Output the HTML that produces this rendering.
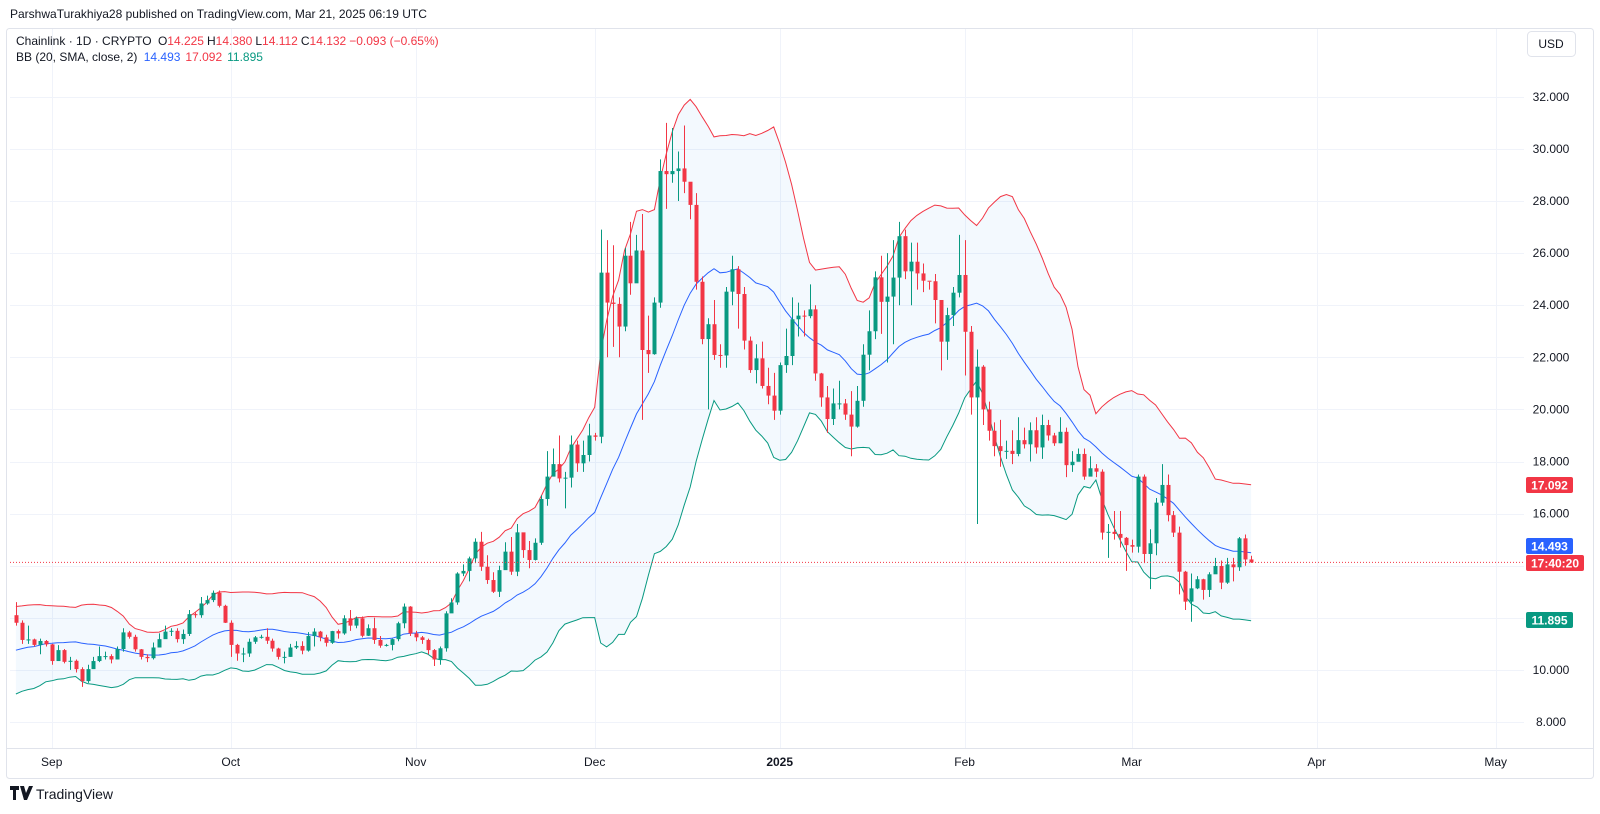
<!DOCTYPE html>
<html><head><meta charset="utf-8"><style>
html,body{margin:0;padding:0;background:#fff;}
svg{display:block;font-family:"Liberation Sans",sans-serif;}
</style></head><body>
<svg id="chart" width="1600" height="814" viewBox="0 0 1600 814">
  <text x="10" y="18" font-size="12" fill="#131722">ParshwaTurakhiya28 published on TradingView.com, Mar 21, 2025 06:19 UTC</text>
  <rect x="6.5" y="28.5" width="1587" height="750" rx="3" fill="none" stroke="#e0e3eb"/>
  <g id="grid"></g>
  <g id="bands"></g>
  <g id="candles"></g>
  <g id="axes"></g>
  <g font-size="12">
    <text x="16" y="45" fill="#131722">Chainlink · 1D · CRYPTO <tspan fill="#131722" dx="3">O</tspan><tspan fill="#F23645">14.225</tspan><tspan dx="3">H</tspan><tspan fill="#F23645">14.380</tspan><tspan dx="3">L</tspan><tspan fill="#F23645">14.112</tspan><tspan dx="3">C</tspan><tspan fill="#F23645">14.132</tspan><tspan fill="#F23645" dx="3">−0.093 (−0.65%)</tspan></text>
    <text x="16" y="61" fill="#131722">BB (20, SMA, close, 2) <tspan fill="#2962FF" dx="3">14.493</tspan><tspan fill="#F23645" dx="5">17.092</tspan><tspan fill="#089981" dx="5">11.895</tspan></text>
  </g>
  <g>
    <rect x="1527.5" y="31.5" width="48" height="25" rx="4" fill="#fff" stroke="#e0e3eb"/>
    <text x="1551" y="48" font-size="12" fill="#131722" text-anchor="middle">USD</text>
  </g>
  <g>
    <path d="M10 786h9v4h-3v10h-3v-10h-3z M20 786l4 0 2 7 3-7h4l-6 14h-3z" fill="#131722"/>
    <text x="36" y="799" font-size="14" fill="#131722">TradingView</text>
  </g>
</svg>
<script>
const warmupCloses=[9.9,10.2,10.4,10.0,9.8,10.1,10.3,10.2,10.0,9.9,10.5,10.7,10.6,11.2,11.1,11.6,12.0,12.3,12.5];
const firstOpen=12.1;
const closes=[11.81,11.15,11.17,10.96,11.11,10.98,10.34,10.76,10.31,10.35,10.03,9.57,10.03,10.34,10.53,10.53,10.40,10.80,11.44,11.27,
10.79,10.50,10.45,10.86,11.18,11.47,11.50,11.18,11.38,12.14,12.10,12.55,12.68,12.96,12.46,11.81,10.96,10.63,10.63,11.08,
11.25,11.27,11.12,10.82,10.50,10.50,10.86,10.92,10.74,11.30,11.47,11.25,11.04,11.49,11.40,11.98,11.70,11.98,11.31,11.60,
11.15,10.93,10.96,11.18,11.79,12.43,11.40,11.25,11.15,10.76,10.40,10.83,12.17,12.59,13.70,13.80,14.28,14.92,13.96,13.45,
13.00,13.83,14.54,13.77,15.28,14.60,14.22,14.88,16.56,17.42,17.90,17.35,17.38,18.65,17.93,18.25,19.00,18.95,25.25,24.10,
24.05,23.18,25.90,24.84,26.10,22.28,22.12,24.10,29.15,29.03,29.15,29.25,28.74,27.85,24.90,22.70,23.27,22.09,22.07,24.52,
25.38,24.43,22.64,21.51,21.96,20.90,20.53,19.95,21.70,22.05,23.46,23.60,23.58,23.84,21.38,20.46,19.63,20.23,20.23,19.80,
19.34,20.33,22.10,23.00,25.07,24.13,24.33,25.06,26.65,25.30,25.67,25.22,24.94,24.92,24.20,22.60,23.62,24.48,25.16,22.98,
20.46,21.64,20.00,19.18,18.59,18.40,18.41,18.29,18.82,18.66,19.20,18.54,19.40,19.00,18.70,19.14,17.86,17.99,18.29,17.42,
17.74,17.61,15.27,15.30,15.22,15.07,14.79,14.73,17.42,14.45,14.86,16.42,17.10,15.94,15.27,13.77,12.62,13.13,13.48,13.07,
13.67,13.99,13.35,14.05,13.94,15.05,14.24,14.13];
const highs=[12.6,11.9,11.7,11.2,11.2,11.15,11.0,10.95,10.8,10.5,10.4,10.1,10.2,10.5,10.9,10.7,10.6,10.9,11.6,11.5,
11.35,10.8,10.6,11.05,11.4,11.7,11.6,11.6,11.55,12.3,12.2,12.8,12.85,13.05,13.05,12.5,11.9,11.0,10.85,11.2,
11.3,11.35,11.6,11.2,10.85,10.7,11.0,11.1,11.1,11.45,11.6,11.5,11.35,11.5,11.55,12.1,12.3,12.05,12.05,11.75,
12.0,11.3,11.0,11.2,11.85,12.55,12.45,11.5,11.3,11.2,10.8,10.9,12.25,12.75,13.75,14.05,14.35,15.05,15.3,14.4,
13.75,14.0,14.9,15.1,15.6,15.2,14.95,15.05,16.7,18.4,18.5,19.0,17.6,19.0,18.8,18.8,19.45,19.1,26.9,26.5,
26.3,24.3,26.2,27.2,26.7,27.5,23.6,24.3,29.6,31.0,30.8,29.9,30.9,28.6,28.3,25.1,23.5,24.2,22.5,24.7,
25.9,25.5,24.7,22.8,22.5,22.6,21.6,21.4,21.8,23.1,24.3,24.1,23.8,24.8,24.0,21.4,20.9,20.8,21.1,20.4,
20.7,20.9,22.5,23.8,25.3,25.9,26.0,26.5,27.2,26.9,26.4,26.4,25.6,24.9,25.2,24.0,23.9,24.7,26.7,26.5,
23.2,22.3,21.7,20.3,19.5,19.6,18.8,19.2,19.7,19.3,19.5,19.7,19.8,19.6,19.1,19.7,19.3,18.4,18.5,18.5,
18.2,17.9,17.7,15.6,16.1,16.1,15.1,15.0,17.5,17.5,15.4,16.6,17.9,17.5,16.1,15.5,13.8,13.7,13.6,13.5,
13.75,14.3,14.2,14.3,14.3,15.1,15.2,14.38];
const lows=[11.7,11.0,11.0,10.9,10.6,10.9,10.2,10.4,10.25,10.0,9.9,9.35,9.5,10.2,10.3,10.4,10.25,10.4,10.7,11.2,
10.7,10.4,10.3,10.4,11.0,11.2,11.3,11.05,11.0,11.3,12.0,12.0,12.5,12.6,12.4,11.8,10.5,10.35,10.3,10.5,
11.0,11.2,11.0,10.7,10.4,10.25,10.5,10.8,10.6,10.7,10.9,11.1,10.9,11.0,11.2,11.35,11.5,11.6,11.25,11.3,
11.0,10.85,10.9,10.75,11.1,11.6,11.3,11.1,11.0,10.6,10.15,10.2,10.7,12.4,12.5,13.6,13.4,14.1,13.8,13.3,
12.95,12.8,13.9,13.65,13.6,14.3,13.9,14.2,14.8,16.3,17.6,17.2,16.2,17.0,17.6,17.6,18.0,18.8,18.7,22.0,
22.4,22.0,23.0,24.4,25.2,19.6,21.4,22.1,23.9,27.7,28.7,28.0,28.3,27.3,24.6,22.5,20.0,21.9,21.6,21.6,
24.0,23.1,22.3,21.4,21.0,20.8,20.2,19.6,19.8,21.4,21.7,22.8,22.8,23.5,21.1,20.1,19.1,19.4,20.0,19.6,
18.2,19.3,20.1,21.5,22.7,22.9,21.8,22.5,24.0,25.0,24.0,24.6,24.5,24.6,23.3,21.5,21.9,23.2,24.3,21.3,
19.8,15.6,19.4,18.8,18.2,17.8,18.1,17.9,18.2,18.5,18.0,18.3,18.1,18.8,18.6,18.7,17.4,17.6,18.0,17.3,
17.6,17.4,15.0,14.3,15.0,14.7,13.8,14.5,14.5,14.1,13.1,14.4,16.3,15.7,15.1,12.9,12.3,11.85,13.1,12.7,
12.8,13.7,13.1,13.3,13.4,13.8,14.0,14.11];
const priceTicks=["8.000","10.000","12.000","14.000","16.000","18.000","20.000","22.000","24.000","26.000","28.000","30.000","32.000"];
const monthLabels=["Sep","Oct","Nov","Dec","2025","Feb","Mar","Apr","May"];
const monthDays=[0,30,61,91,122,153,181,212,242];

const NS="http://www.w3.org/2000/svg";
const PL=10,PR=1524,PT=29,PB=748;
function yOf(v){return 565.7-(v-14)*26.05;}
function xOfDay(d){return 51.7+d*5.967;}
function xOfIdx(i){return xOfDay(i-6);}
function mk(tag,attrs,parent){const e=document.createElementNS(NS,tag);for(const k in attrs)e.setAttribute(k,attrs[k]);parent.appendChild(e);return e;}

const grid=document.getElementById('grid');
priceTicks.forEach(t=>{const y=Math.round(yOf(parseFloat(t)))+0.5;
  const l=mk('line',{x1:PL,x2:PR,y1:y,y2:y,stroke:'#f0f3fa'},grid);
  
  });
monthDays.forEach(d=>{const x=Math.round(xOfDay(d))+0.5;
  const l=mk('line',{x1:x,x2:x,y1:PT,y2:PB,stroke:'#f0f3fa'},grid);
  
  });

// Bollinger bands
const all=warmupCloses.concat(closes);
const up=[],mid=[],lo=[];
closes.forEach((c,i)=>{const j=i+warmupCloses.length;const s=all.slice(Math.max(0,j-19),j+1);
  const m=s.reduce((a,b)=>a+b,0)/s.length;const sd=Math.sqrt(s.reduce((a,b)=>a+(b-m)*(b-m),0)/s.length);
  mid.push(m);up.push(m+2*sd);lo.push(m-2*sd);});
const bands=document.getElementById('bands');
const ptsU=up.map((v,i)=>xOfIdx(i).toFixed(1)+','+yOf(v).toFixed(1));
const ptsL=lo.map((v,i)=>xOfIdx(i).toFixed(1)+','+yOf(v).toFixed(1));
const fill=mk('polygon',{points:ptsU.concat(ptsL.slice().reverse()).join(' '),fill:'rgba(33,150,243,0.055)'},bands);


const lu=mk('polyline',{points:ptsU.join(' '),fill:'none',stroke:'#F23645','stroke-width':1},bands);


const lm=mk('polyline',{points:mid.map((v,i)=>xOfIdx(i).toFixed(1)+','+yOf(v).toFixed(1)).join(' '),fill:'none',stroke:'#2962FF','stroke-width':1},bands);


const ll=mk('polyline',{points:ptsL.join(' '),fill:'none',stroke:'#089981','stroke-width':1},bands);



// candles
const cg=document.getElementById('candles');
closes.forEach((c,i)=>{const o=i===0?firstOpen:closes[i-1];const up_=c>=o;const col=up_?'#089981':'#F23645';
  const x=Math.round(xOfIdx(i));
  const g=mk('g',{},cg);
  
  
  mk('line',{x1:x+0.5,x2:x+0.5,y1:yOf(highs[i]),y2:yOf(lows[i]),stroke:col,'stroke-width':1},g);
  const t=yOf(Math.max(o,c)),b=yOf(Math.min(o,c));
  mk('rect',{x:x-1.5,y:t,width:4,height:Math.max(1,b-t),fill:col},g);});

// axes
const ax=document.getElementById('axes');
const last=closes[closes.length-1];
const dl=mk('line',{x1:PL,x2:PR,y1:yOf(last),y2:yOf(last),stroke:'#F23645','stroke-dasharray':'1 2','stroke-width':1},ax);


const bl=mk('line',{x1:6,x2:1594,y1:PB+0.5,y2:PB+0.5,stroke:'#e0e3eb'},ax);


priceTicks.forEach(t=>{const e=mk('text',{x:1551,y:yOf(parseFloat(t))+4,'font-size':12,fill:'#131722','text-anchor':'middle'},ax);e.textContent=t;
  
  });
monthLabels.forEach((m,k)=>{const e=mk('text',{x:xOfDay(monthDays[k]),y:766,'font-size':12,fill:'#131722','text-anchor':'middle','font-weight':m==='2025'?'bold':'normal'},ax);e.textContent=m;
  
  });
const tags=[["17.092","#F23645",477,16],["14.493","#2962FF",538,16],["17:40:20","#F23645",555,16],["11.895","#089981",612,16]];
tags.forEach(t=>{const g=mk('g',{},ax);
  
  
  const w=t[0].length>6?58:47;
  mk('rect',{x:1526,y:t[2],width:w,height:t[3],rx:2,fill:t[1]},g);
  const e=mk('text',{x:1526+w/2,y:t[2]+12.5,'font-size':12,'font-weight':'bold',fill:'#fff','text-anchor':'middle'},g);e.textContent=t[0];});
</script>
</body></html>
